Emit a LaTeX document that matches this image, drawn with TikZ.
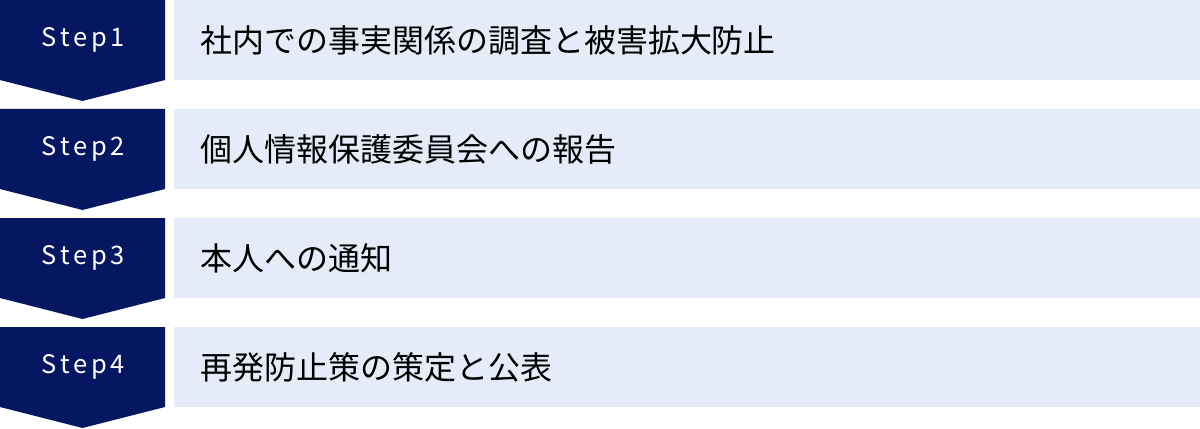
\documentclass[tikz,border=0pt]{standalone}
\usepackage{fontspec}
\setmainfont{Noto Sans CJK JP}
\newfontfamily\stepfont[LetterSpace=15]{Noto Sans CJK JP}
\definecolor{stepnavy}{RGB}{5,23,97}
\definecolor{stepbg}{RGB}{230,235,249}

\begin{document}
\begin{tikzpicture}[x=0.02cm, y=-0.02cm,
    steplabel/.style={text=white, inner sep=0pt, font=\stepfont\fontsize{14.5pt}{17pt}\selectfont},
    steptext/.style={anchor=west, inner sep=0pt, text=black, font=\fontsize{18.2pt}{22pt}\selectfont}]
            \useasboundingbox (0, 0) rectangle (1200, 429);
            \foreach \i/\txt in {1/社内での事実関係の調査と被害拡大防止, 2/個人情報保護委員会への報告, 3/本人への通知, 4/再発防止策の策定と公表} {
                \pgfmathsetmacro{\y}{(\i-1)*109}
                \fill[stepnavy] (0, \y) -- ++(165, 0) -- ++(0, 80) -- ++(-82.5, 21) -- ++(-82.5, -21) -- cycle;
                \fill[stepbg] (174, \y) rectangle ++(1026, 80);
                \node[steplabel] (step\i) at (83.5, \y+39.5) {Step\i};
                \node[steptext] (task\i) at (200, \y+40) {\txt};
            }
        \end{tikzpicture}
\end{document}
